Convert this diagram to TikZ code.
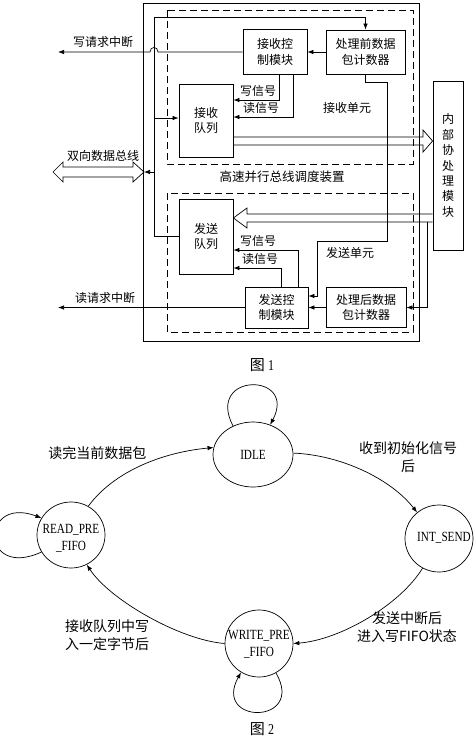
\documentclass[tikz,border=0pt]{standalone}
\usepackage{fontspec}
\setmainfont{Noto Sans CJK SC}
\newfontfamily\lat[FakeStretch=0.8]{Liberation Serif}
\usetikzlibrary{arrows.meta,shapes.geometric,calc}
\begin{document}
\begin{tikzpicture}[x=1pt,y=-1pt,
  box/.style={draw, line width=0.8pt, align=center, inner sep=0pt, font=\fontsize{12}{15.5}\selectfont},
  arr/.style={-{Latex[length=6pt,width=4.5pt]}, line width=0.7pt},
  ln/.style={line width=0.7pt},
  dbox/.style={draw, dash pattern=on 7pt off 4pt, line width=0.9pt},
  lbl/.style={font=\fontsize{12}{15}\selectfont, inner sep=0pt},
  state/.style={draw, ellipse, line width=0.7pt, inner sep=0pt},
  stxt/.style={font=\lat\fontsize{14}{17}\selectfont, align=center, inner sep=0pt},
  lbl2/.style={font=\fontsize{14}{18}\selectfont, align=center, inner sep=0pt}]
\useasboundingbox (0,0) rectangle (474,737);
% ---------- figure 1 ----------
\draw[line width=0.8pt] (143,3) rectangle (419,341);
\draw[dbox] (167,10) rectangle (413,164);
\draw[dbox] (167,193) rectangle (413,332);
\node[box, minimum width=64pt, minimum height=45pt] (rc) at (275,52) {接收控\\制模块};
\node[box, minimum width=79pt, minimum height=44pt] (c1) at (365.5,52) {处理前数据\\包计数器};
\node[box, minimum width=54pt, minimum height=73pt] (rq) at (206,120.5) {接收\\队列};
\node[box, minimum width=54pt, minimum height=75pt] (sq) at (206,236.5) {发送\\队列};
\node[box, minimum width=63pt, minimum height=41pt] (sc) at (276.5,307.5) {发送控\\制模块};
\node[box, minimum width=80pt, minimum height=40pt] (c2) at (366,307.5) {处理后数据\\包计数器};
\node[box, minimum width=30pt, minimum height=169pt, font=\fontsize{12}{15.4}\selectfont] (cp) at (448,165.5) {内\\部\\协\\处\\理\\模\\块};
\node[lbl] (title) at (282,177) {\fontsize{12.5}{15}\selectfont 高速并行总线调度装置};
\node[lbl] (ru) at (347,108) {接收单元};
\node[lbl] (su) at (350,253) {发送单元};
\node[lbl] (w1) at (258,91) {写信号};
\node[lbl] (r1) at (261,108) {读信号};
\node[lbl] (w2) at (258,241) {写信号};
\node[lbl] (r2) at (260,259) {读信号};
\node[lbl] (wint) at (103,42) {写请求中断};
\node[lbl] (rint) at (105,298) {读请求中断};
\node[lbl] (busl) at (103,156) {双向数据总线};
\coordinate (wiEnd) at (58,52);
\coordinate (riEnd) at (58,307.5);
\coordinate (busR) at (144,172);
% bus double arrow
\draw[ln] (53,172) -- (63,162) -- (63,167) -- (133,167) -- (133,162) -- (busR) -- (133,182) -- (133,177) -- (63,177) -- (63,182) -- cycle;
% connectors
\draw[arr] (rc.west) -- (158,52) .. controls (158,46) and (150,46) .. (150,52) -- (wiEnd);
\draw[arr] (sq.west) -- (154,236.5) -- (154,17) -| (c1.north);
\draw[arr] (154,118) -- (rq.west |- 0,118);
\draw[arr] (154,172) -- (busR);
\draw[arr] (c1.west) -- (rc.east);
\draw[arr] ([xshift=4pt]rc.south) |- (rq.east |- 0,100);
\draw[arr] ([xshift=18pt]rc.south) |- (rq.east |- 0,117);
\draw[ln] (rq.east |- 0,137) -- (423,137) -- (423,130) -- (cp.west |- 0,141) -- (423,152) -- (423,145) -- (rq.east |- 0,145);
\draw[ln] (cp.west |- 0,214) -- (247,214) -- (247,208) -- (sq.east |- 0,218) -- (247,228) -- (247,222) -- (cp.west |- 0,222);
\draw[arr] (427,222) -- (427,307.5) -- (c2.east);
\draw[arr] (c1.south) -- (365.5,82) -- (387,82) -- (387,241) -- (317,241) -- (317,296) -- (sc.east |- 0,296);
\draw[arr] (c2.west) -- (sc.east |- c2.west);
\draw[arr] ([xshift=21.5pt]sc.north) |- (sq.east |- 0,250);
\draw[arr] ([xshift=4.5pt]sc.north) |- (sq.east |- 0,268);
\draw[arr] (sc.west) -- (riEnd);
\node[inner sep=0pt, font=\fontsize{15}{18}\selectfont] (cap1) at (262,365) {图 {\lat 1}};
% ---------- figure 2 ----------
\node[state, minimum width=80pt, minimum height=65pt] (idle) at (253,454.5) {};
\node[state, minimum width=68pt, minimum height=66pt] (read) at (71,535) {};
\node[state, minimum width=68pt, minimum height=67pt] (int) at (439,538.5) {};
\node[state, minimum width=68pt, minimum height=67pt] (write) at (259,643.5) {};
\node[stxt] (idleT) at (idle) {IDLE};
\node[stxt] (readT) at (71,538.5) {READ\_PRE\\\_FIFO};
\node[stxt] (intT) at (444,538) {INT\_SEND};
\node[stxt] (writeT) at (259,644) {WRITE\_PRE\\\_FIFO};
\draw[arr] (read.59) .. controls (115,470) and (165,452) .. (idle.170);
\draw[arr] (idle.2) .. controls (340,455) and (390,478) .. (int.130);
\draw[arr] (int.241) .. controls (400,605) and (340,640) .. (write.0);
\draw[arr] (write.180) .. controls (180,640) and (110,600) .. (read.298);
\draw[arr] (idle.125) .. controls (205,372) and (298,372) .. (idle.60);
\draw[arr] (read.210) .. controls (-20,580) and (-20,495) .. (read.150);
\draw[arr] (write.300) .. controls (306,725) and (212,725) .. (write.238);
\node[lbl2] (l1) at (97.5,453) {读完当前数据包};
\node[lbl2] (l2) at (408,457.5) {收到初始化信号\\后};
\node[lbl2] (l3) at (407,627.5) {发送中断后\\进入写FIFO状态};
\node[lbl2] (l4) at (107,635) {接收队列中写\\入一定字节后};
\node[inner sep=0pt, font=\fontsize{15}{18}\selectfont] (cap2) at (262,729) {图 {\lat 2}};
\end{tikzpicture}
\end{document}
